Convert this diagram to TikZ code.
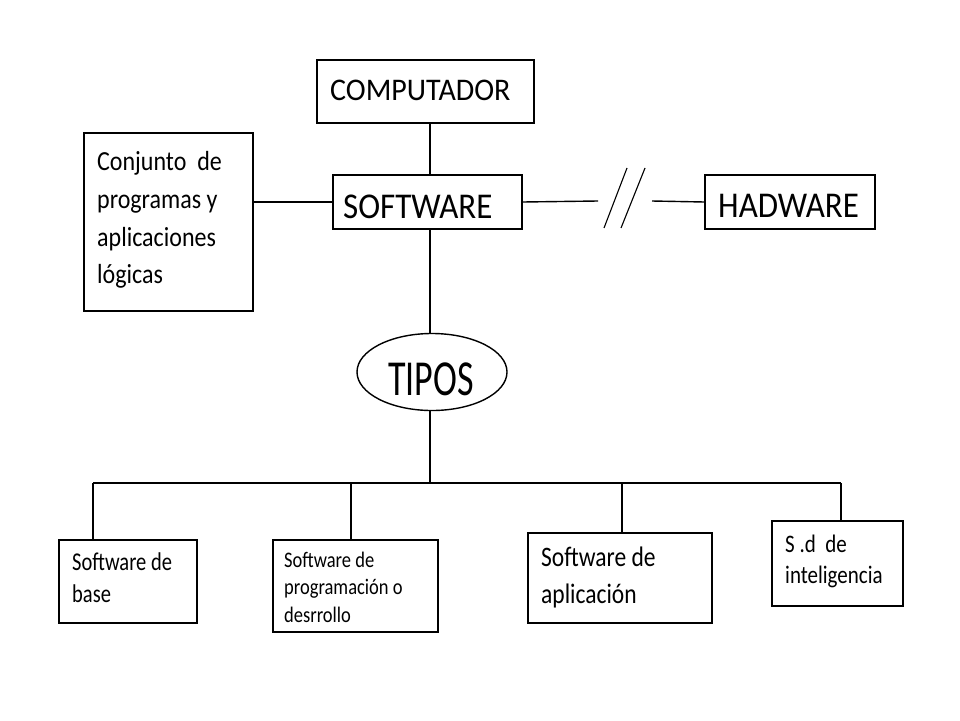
\documentclass[tikz,border=0pt]{standalone}
\usepackage{fontspec}
\usepackage{graphicx}
\setmainfont{Carlito}
\usetikzlibrary{shapes.geometric}
\newcommand{\vstretch}[2]{\scalebox{1}[#1]{#2}}
\begin{document}
\begin{tikzpicture}[x=1pt,y=-1pt,
  box/.style={draw,line width=1.4pt,rectangle,inner sep=0pt},
  lin/.style={line width=1.4pt},
  txt/.style={anchor=base west,inner sep=0pt}]
\useasboundingbox (0,0) rectangle (960,720);
% boxes
\node[box,minimum width=217pt,minimum height=63pt] (comp) at (425.5,91.5) {};
\node[box,minimum width=189pt,minimum height=54pt] (soft) at (427.5,202) {};
\node[box,minimum width=170pt,minimum height=54pt] (hadw) at (790,202) {};
\node[box,minimum width=169pt,minimum height=178pt] (conj) at (168.5,222) {};
\node[draw,line width=1.4pt,ellipse,minimum width=150pt,minimum height=77pt,inner sep=0pt] (tipos) at (432,372) {};
\node[box,minimum width=138pt,minimum height=83pt] (b1) at (128,581.5) {};
\node[box,minimum width=165pt,minimum height=92pt] (b2) at (355.5,586) {};
\node[box,minimum width=184pt,minimum height=90pt] (b3) at (620,578) {};
\node[box,minimum width=131pt,minimum height=85pt] (b4) at (837.5,563.5) {};
% texts
\node[txt,font=\fontsize{30}{36}\selectfont] (tcomp) at (330,100) {\vstretch{1.05}{COMPUTADOR}};
\node[txt,font=\fontsize{33}{40}\selectfont] (tsoft) at (343,218) {\vstretch{1.1}{SOFTWARE}};
\node[txt,font=\fontsize{33}{40}\selectfont] (thadw) at (718,217) {\vstretch{1.1}{HADWARE}};
\node[txt,font=\fontsize{36}{44}\selectfont] (ttipos) at (388,395) {\vstretch{1.4}{TIPOS}};
\node[txt,font=\fontsize{24}{29}\selectfont] (c1) at (97,170) {\vstretch{1.15}{Conjunto\ \ de}};
\node[txt,font=\fontsize{24}{29}\selectfont] (c2) at (97,208) {\vstretch{1.15}{programas y}};
\node[txt,font=\fontsize{24}{29}\selectfont] (c3) at (97,246) {\vstretch{1.15}{aplicaciones}};
\node[txt,font=\fontsize{24}{29}\selectfont] (c4) at (97,283) {\vstretch{1.15}{lógicas}};
\node[txt,font=\fontsize{20.5}{25}\selectfont] (b1a) at (72,570) {\vstretch{1.25}{Software de}};
\node[txt,font=\fontsize{20.5}{25}\selectfont] (b1b) at (72,602) {\vstretch{1.25}{base}};
\node[txt,font=\fontsize{18.5}{22}\selectfont] (b2a) at (284,567) {\vstretch{1.2}{Software de}};
\node[txt,font=\fontsize{18.5}{22}\selectfont] (b2b) at (284,594) {\vstretch{1.2}{programación o}};
\node[txt,font=\fontsize{18.5}{22}\selectfont] (b2c) at (284,622) {\vstretch{1.2}{desrrollo}};
\node[txt,font=\fontsize{23.5}{28}\selectfont] (b3a) at (541,566) {\vstretch{1.2}{Software de}};
\node[txt,font=\fontsize{23.5}{28}\selectfont] (b3b) at (541,603) {\vstretch{1.2}{aplicación}};
\node[txt,font=\fontsize{21}{25}\selectfont] (b4a) at (785,552) {\vstretch{1.2}{S .d\ \ de}};
\node[txt,font=\fontsize{21}{25}\selectfont] (b4b) at (785,583) {\vstretch{1.2}{inteligencia}};
% connectors
\coordinate (spine) at (430,0);
\draw[lin] (spine |- comp.south) -- (spine |- soft.north);
\draw[lin] (soft.west) -- (soft.west -| conj.east);
\coordinate (g1) at (598,201);
\coordinate (g2) at (652,201);
\draw[lin] (soft.east) -- (g1);
\draw[lin] (g2) -- (hadw.west);
\coordinate (s1a) at (604,228); \coordinate (s1b) at (627,168);
\coordinate (s2a) at (621,228); \coordinate (s2b) at (645,168);
\draw[line width=1.1pt] (s1a) -- (s1b);
\draw[line width=1.1pt] (s2a) -- (s2b);
\draw[lin] (spine |- soft.south) -- (spine |- tipos.north);
\coordinate (bus) at (430,483);
\coordinate (bl) at (93,483);
\coordinate (br) at (841,483);
\coordinate (d2) at (351,483);
\coordinate (d3) at (622,483);
\draw[lin] (spine |- tipos.south) -- (bus);
\draw[lin] (bl) -- (br);
\draw[lin] (bl) -- (bl |- b1.north);
\draw[lin] (d2) -- (d2 |- b2.north);
\draw[lin] (d3) -- (d3 |- b3.north);
\draw[lin] (br) -- (br |- b4.north);
\end{tikzpicture}
\end{document}
